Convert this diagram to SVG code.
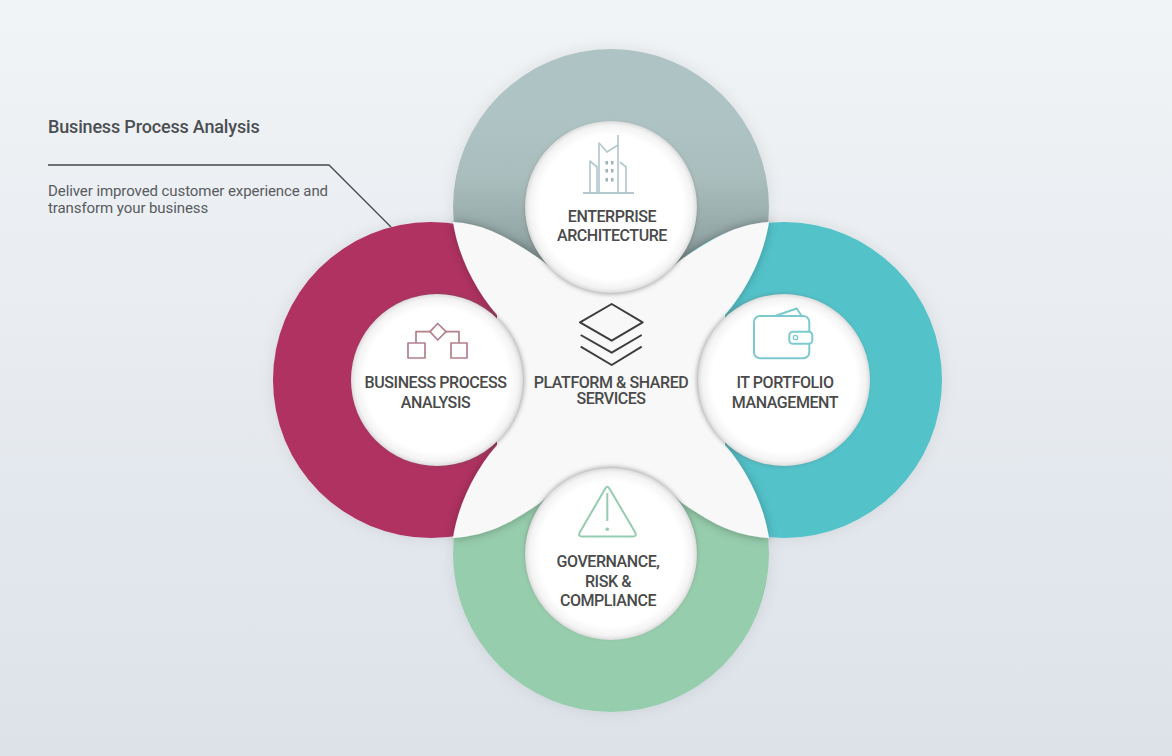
<svg xmlns="http://www.w3.org/2000/svg" width="1172" height="756" viewBox="0 0 1172 756">
<style>
.t{font-family:Roboto,"Liberation Sans",sans-serif;font-weight:500;font-size:16px;letter-spacing:-.43px;fill:#4a4a4a;text-anchor:middle}
.h{font-family:Roboto,"Liberation Sans",sans-serif;font-size:18px;font-weight:500;letter-spacing:-.17px;fill:#4b4e52}
.b{font-family:Roboto,"Liberation Sans",sans-serif;font-size:15px;letter-spacing:-.08px;fill:#585b5f}
.ic{fill:none;stroke-width:1.7;stroke-linejoin:round}
.rim{fill:#5c5c5c;filter:url(#bl);opacity:.55}
.disc{fill:url(#disc)}
</style>
<defs>
<linearGradient id="bg" x1="0" y1="0" x2="0" y2="1"><stop offset="0" stop-color="#f1f4f6"/><stop offset="1" stop-color="#dde2e9"/></linearGradient>
<linearGradient id="grey" gradientUnits="userSpaceOnUse" x1="0" y1="120" x2="0" y2="285"><stop offset="0" stop-color="#aec3c3"/><stop offset=".35" stop-color="#a9bdbd"/><stop offset=".7" stop-color="#95a8a8"/><stop offset="1" stop-color="#667575"/></linearGradient>
<radialGradient id="disc"><stop offset="0" stop-color="#fff"/><stop offset=".84" stop-color="#fff"/><stop offset=".95" stop-color="#f3f3f3"/><stop offset="1" stop-color="#dcdcdc"/></radialGradient>
<filter id="bl" x="-20%" y="-20%" width="140%" height="140%"><feGaussianBlur stdDeviation="2.5"/></filter>
<filter id="soft" x="-20%" y="-20%" width="140%" height="140%"><feDropShadow dx="0" dy="0" stdDeviation="7" flood-color="#000" flood-opacity=".09"/></filter>
<filter id="cross" x="-20%" y="-20%" width="140%" height="140%"><feDropShadow dx="0" dy="0" stdDeviation="5" flood-color="#000" flood-opacity=".25"/></filter>
</defs>
<rect id="background" width="1172" height="756" fill="url(#bg)"/>
<g id="connectors"><path d="M48 165H329L391 227" fill="none" stroke="#45484c" stroke-width="1.3"/></g>
<g id="rings">
<circle id="ring-top" cx="611" cy="207" r="158" fill="url(#grey)" filter="url(#soft)"/>
<circle id="ring-bottom" cx="611" cy="554" r="158" fill="#96cdac" filter="url(#soft)"/>
<circle id="ring-left" cx="431" cy="380" r="158" fill="#af3160" filter="url(#soft)"/>
<circle id="ring-right" cx="784" cy="380" r="158" fill="#52c2c9" filter="url(#soft)"/>
</g>
<g id="platform">
<path filter="url(#cross)" fill="#f8f8f8" d="M453 222C487 224 512 240 540 259L560 275H662L682 259C710 240 735 224 769 222C764 255 747 290 725 315V445C747 470 764 505 769 538C732 536 707 520 682 503L662 485H560L540 503C515 520 490 536 453 538C458 505 475 470 497 445V315C475 290 458 255 453 222Z"/>
<g class="ic" stroke="#3d3d3d" style="stroke-width:2"><path d="M611.700 304L642.700 322.300 611.700 340.700 580 322.300Z"/><path d="M580.700 335L611.700 352.700 641.700 335"/><path d="M580.700 346.700L611.700 365 641.700 346.700"/></g>
<text class="t" x="611" y="388">PLATFORM &amp; SHARED</text>
<text class="t" x="611" y="404">SERVICES</text>
</g>
<g id="enterprise-architecture">
<circle class="rim" cx="611" cy="209" r="85"/><circle class="disc" cx="611" cy="207" r="86"/>
<g class="ic" stroke="#b4c9cd"><path d="M583 193H634" style="stroke-width:2"/><path d="M590 193V161L597 167V193M599 193V143L607 152 618 145V135M618 135V193M620 162L626 167V193"/></g>
<g fill="#9fb4b8"><rect x="605.500" y="161" width="2.500" height="3.500"/><rect x="611" y="161" width="2.500" height="3.500"/><rect x="605.500" y="169" width="2.500" height="3.500"/><rect x="611" y="169" width="2.500" height="3.500"/><rect x="605.500" y="178" width="2.500" height="3.500"/><rect x="611" y="178" width="2.500" height="3.500"/></g>
<text class="t" x="612" y="222">ENTERPRISE</text>
<text class="t" x="612" y="241">ARCHITECTURE</text>
</g>
<g id="business-process-analysis">
<circle class="rim" cx="439" cy="380" r="85"/><circle class="disc" cx="437" cy="380" r="86"/>
<g class="ic" stroke="#b27f8b"><path d="M437.700 323.500L446 331.700 437.700 340 430 331.700Z"/><path d="M430 331.700H416V343M446 331.700H459V343"/><rect x="408" y="343" width="17" height="15"/><rect x="451" y="343" width="16" height="15"/></g>
<text class="t" x="435.500" y="387.500">BUSINESS PROCESS</text>
<text class="t" x="435.500" y="407.500">ANALYSIS</text>
</g>
<g id="it-portfolio-management">
<circle class="rim" cx="782" cy="380" r="85"/><circle class="disc" cx="784" cy="380" r="86"/>
<g class="ic" stroke="#7ccacf" style="stroke-width:2"><path d="M775 316L796.700 308.500 801.700 316"/><path d="M809.300 331.700V322A6 6 0 0 0 803.300 316H760A6 6 0 0 0 754 322V352.300A6 6 0 0 0 760 358.300H803.300A6 6 0 0 0 809.300 352.300V343.500"/><rect x="789.300" y="331.700" width="23" height="12" rx="3.500"/><circle cx="795.500" cy="337.500" r="2.200" style="stroke-width:1.300"/></g>
<text class="t" x="785" y="387.500">IT PORTFOLIO</text>
<text class="t" x="785" y="407.500">MANAGEMENT</text>
</g>
<g id="governance-risk-compliance">
<circle class="rim" cx="611" cy="552" r="85"/><circle class="disc" cx="611" cy="554" r="86"/>
<g class="ic" stroke="#95cdb0" style="stroke-width:2"><path d="M605 489Q607.300 484.500 609.700 489L635 532Q637.500 536.500 632.500 536.500H582Q577.500 536.500 580 532Z"/><path d="M607.300 493V521"/></g>
<circle cx="607.300" cy="529.300" r="1.800" fill="#95cdb0"/>
<text class="t" x="608" y="566.500">GOVERNANCE,</text>
<text class="t" x="608" y="586.500">RISK &amp;</text>
<text class="t" x="608" y="605.500">COMPLIANCE</text>
</g>
<g id="callout">
<text class="h" x="48" y="133">Business Process Analysis</text>
<text class="b" x="48" y="196">Deliver improved customer experience and</text>
<text class="b" x="48" y="213">transform your business</text>
</g>
</svg>
